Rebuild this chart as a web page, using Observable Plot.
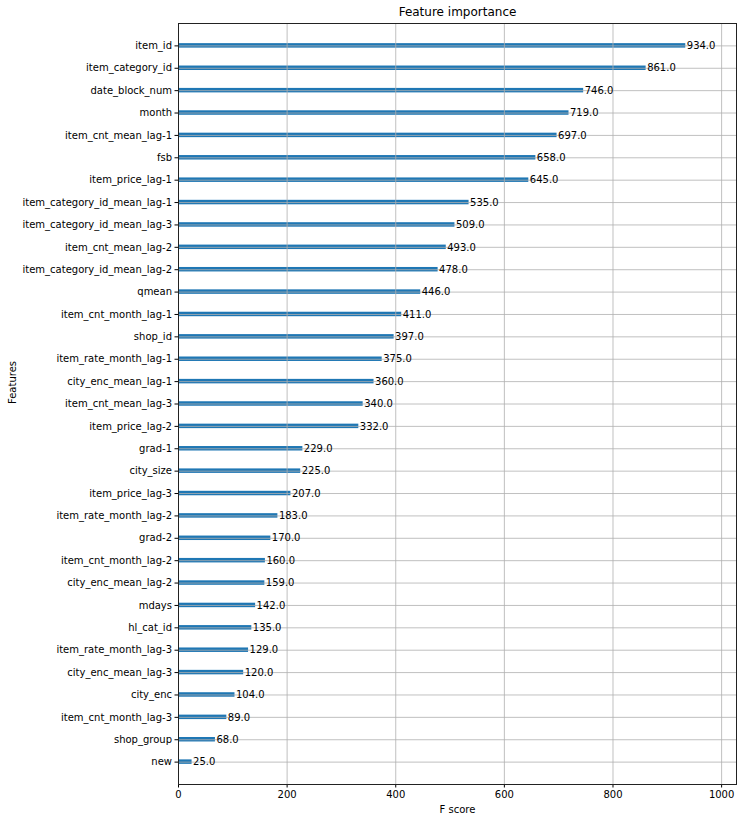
<!DOCTYPE html>
<html>
<head>
<meta charset="utf-8">
<script src="https://cdn.jsdelivr.net/npm/d3@7"></script>
<script src="https://cdn.jsdelivr.net/npm/@observablehq/plot@0.6"></script>
<style>
body { margin: 0; background: #fff; }
</style>
</head>
<body>
<div id="chart"></div>
<script>
const features = ["item_id","item_category_id","date_block_num","month","item_cnt_mean_lag-1","fsb","item_price_lag-1","item_category_id_mean_lag-1","item_category_id_mean_lag-3","item_cnt_mean_lag-2","item_category_id_mean_lag-2","qmean","item_cnt_month_lag-1","shop_id","item_rate_month_lag-1","city_enc_mean_lag-1","item_cnt_mean_lag-3","item_price_lag-2","grad-1","city_size","item_price_lag-3","item_rate_month_lag-2","grad-2","item_cnt_month_lag-2","city_enc_mean_lag-2","mdays","hl_cat_id","item_rate_month_lag-3","city_enc_mean_lag-3","city_enc","item_cnt_month_lag-3","shop_group","new"];
const scores = [934,861,746,719,697,658,645,535,509,493,478,446,411,397,375,360,340,332,229,225,207,183,170,160,159,142,135,129,120,104,89,68,25];
const xTicks = [0,200,400,600,800,1000];
const title = "Feature importance";
const xLabel = "F score";
const yLabel = "Features";

const data = features.map((f, i) => ({feature: f, value: scores[i]}));
const maxV = d3.max(scores) * 1.1;

const chart = Plot.plot({
  width: 742,
  height: 822,
  marginLeft: 178,
  marginRight: 6,
  marginTop: 23,
  marginBottom: 38,
  style: {fontFamily: "DejaVu Sans", fontSize: "10px", color: "black", background: "white"},
  x: {domain: [0, maxV]},
  y: {type: "band", domain: features, paddingInner: 0.8, paddingOuter: 0.9, round: false},
  marks: [
    Plot.barX(data, {x: "value", y: "feature", fill: "#1f77b4", insetTop: 0, insetBottom: 0}),
    Plot.gridX(xTicks, {stroke: "#b0b0b0", strokeOpacity: 1, strokeWidth: 0.8}),
    Plot.gridY(features, {stroke: "#b0b0b0", strokeOpacity: 1, strokeWidth: 0.8}),
    Plot.text(data, {x: "value", y: "feature", text: d => d.value.toFixed(1), textAnchor: "start", dx: 1, fill: "black", fontSize: 10}),
    Plot.axisX({ticks: xTicks, tickSize: 3.5, tickPadding: 3, tickFormat: d => String(d), label: null, fontSize: 10}),
    Plot.axisY({tickSize: 3.5, tickPadding: 3, label: null, fontSize: 10}),
    Plot.frame({stroke: "#222", strokeWidth: 1}),
    Plot.text([title], {frameAnchor: "top", lineAnchor: "middle", dy: -11, fontSize: 12, fill: "black"}),
    Plot.text([xLabel], {frameAnchor: "bottom", lineAnchor: "middle", dy: 25, fontSize: 10, fill: "black"}),
    Plot.text([yLabel], {frameAnchor: "left", lineAnchor: "middle", dx: -166, rotate: -90, fontSize: 10, fill: "black"})
  ]
});
document.getElementById("chart").append(chart);
</script>
</body>
</html>
